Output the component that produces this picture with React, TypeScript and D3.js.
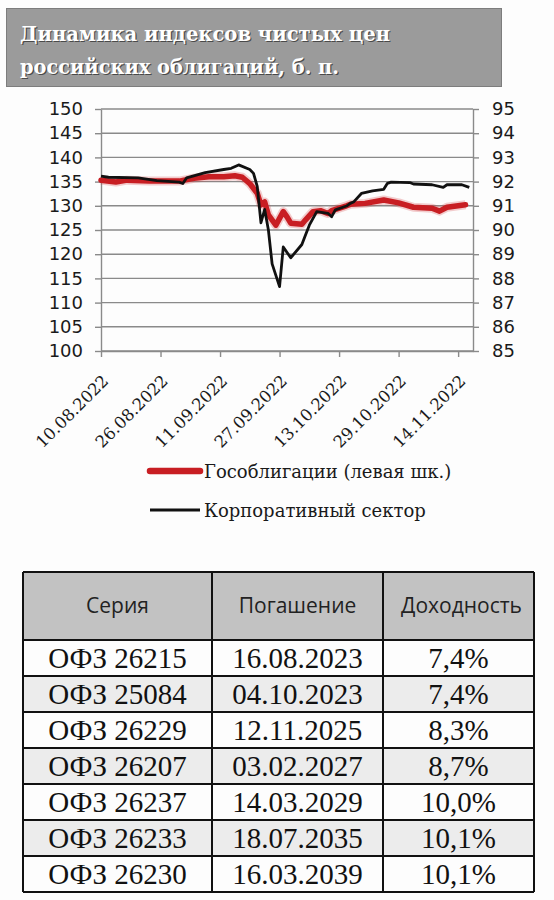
import {
  axisBottom,
  axisLeft,
  axisRight,
  line,
  scaleLinear,
  scaleTime,
  select,
  timeParse
} from "d3";
import { FC, useEffect, useRef } from "react";

const titleLines = ["Динамика индексов чистых цен", "российских облигаций, б. п."];

// Гособлигации, left scale
const govDates = [
  "10.08.2022", "14.08.2022", "17.08.2022", "23.08.2022", "31.08.2022", "04.09.2022",
  "08.09.2022", "12.09.2022", "15.09.2022", "17.09.2022", "19.09.2022", "21.09.2022",
  "22.09.2022", "23.09.2022", "24.09.2022", "26.09.2022", "28.09.2022", "29.09.2022",
  "30.09.2022", "03.10.2022", "04.10.2022", "06.10.2022", "08.10.2022", "10.10.2022",
  "11.10.2022", "15.10.2022", "16.10.2022", "20.10.2022", "25.10.2022", "29.10.2022",
  "02.11.2022", "07.11.2022", "09.11.2022", "11.11.2022", "16.11.2022"
];
const govValues = [
  135.3, 134.9, 135.3, 135.1, 135.1, 135.7,
  136.0, 136.0, 136.2, 135.9, 134.6, 132.6,
  130.2, 130.8, 128.1, 126.0, 128.8, 127.7,
  126.4, 126.2, 127.1, 128.8, 129.0, 128.4,
  129.0, 130.0, 130.3, 130.5, 131.2, 130.6,
  129.7, 129.5, 128.9, 129.7, 130.2
];

// Корпоративный сектор, right scale
const corpDates = [
  "10.08.2022", "12.08.2022", "20.08.2022", "25.08.2022", "31.08.2022", "01.09.2022",
  "02.09.2022", "07.09.2022", "12.09.2022", "14.09.2022", "16.09.2022", "19.09.2022",
  "20.09.2022", "21.09.2022", "22.09.2022", "23.09.2022", "24.09.2022", "25.09.2022",
  "27.09.2022", "28.09.2022", "30.09.2022", "03.10.2022", "04.10.2022", "05.10.2022",
  "07.10.2022", "10.10.2022", "11.10.2022", "12.10.2022", "15.10.2022", "16.10.2022",
  "17.10.2022", "19.10.2022", "22.10.2022", "25.10.2022", "26.10.2022", "27.10.2022",
  "01.11.2022", "02.11.2022", "07.11.2022", "10.11.2022", "11.11.2022", "15.11.2022",
  "17.11.2022"
];
const corpValues = [
  92.23, 92.18, 92.15, 92.04, 91.98, 91.92,
  92.15, 92.37, 92.5, 92.55, 92.69, 92.5,
  92.34, 91.8, 90.3, 90.85, 90.0, 88.6,
  87.66, 89.3, 88.85, 89.4, 89.8, 90.2,
  90.76, 90.69, 90.55, 90.83, 90.99, 91.1,
  91.17, 91.51, 91.62, 91.68, 91.93, 91.98,
  91.96, 91.9, 91.87, 91.76, 91.87, 91.87,
  91.76
];

const leftTicks = [100, 105, 110, 115, 120, 125, 130, 135, 140, 145, 150];
const rightTicks = [85, 86, 87, 88, 89, 90, 91, 92, 93, 94, 95];
const dateTicks = [
  "10.08.2022", "26.08.2022", "11.09.2022", "27.09.2022",
  "13.10.2022", "29.10.2022", "14.11.2022"
];
const legendLabels = ["Гособлигации (левая шк.)", "Корпоративный сектор"];

const tableHeader = ["Серия", "Погашение", "Доходность"];
const bondSeries = [
  "ОФЗ 26215", "ОФЗ 25084", "ОФЗ 26229", "ОФЗ 26207",
  "ОФЗ 26237", "ОФЗ 26233", "ОФЗ 26230"
];
const bondMaturity = [
  "16.08.2023", "04.10.2023", "12.11.2025", "03.02.2027",
  "14.03.2029", "18.07.2035", "16.03.2039"
];
const bondYield = ["7,4%", "7,4%", "8,3%", "8,7%", "10,0%", "10,1%", "10,1%"];

const W = 554;
const H = 900;

const App: FC = () => {
  const svgRef = useRef<SVGSVGElement>(null);

  useEffect(() => {
    const svg = select(svgRef.current);
    svg.selectAll("*").remove();

    const parse = timeParse("%d.%m.%Y");

    const x = scaleTime()
      .domain([parse("10.08.2022")!, parse("18.11.2022")!])
      .range([101, 473]);
    const yLeft = scaleLinear().domain([100, 150]).range([351, 109]);
    const yRight = scaleLinear().domain([85, 95]).range([351, 109]);

    svg.append("rect").attr("width", W).attr("height", H).attr("fill", "#fdfdfd");

    // title box
    svg
      .append("rect")
      .attr("x", 6.5)
      .attr("y", 8.5)
      .attr("width", 495)
      .attr("height", 78)
      .attr("fill", "#9b9b9b")
      .attr("stroke", "#7d7d7d");

    const titleWidths = [370, 319];
    titleLines.forEach((t, i) => {
      [
        { dx: 1.2, fill: "#4a4a4a" },
        { dx: 0, fill: "#ffffff" }
      ].forEach((s) => {
        svg
          .append("text")
          .attr("x", 20 + s.dx)
          .attr("y", 41 + i * 33 + s.dx)
          .attr("font-family", "DejaVu Serif")
          .attr("font-weight", "bold")
          .attr("font-size", 21)
          .attr("textLength", titleWidths[i])
          .attr("lengthAdjust", "spacingAndGlyphs")
          .attr("fill", s.fill)
          .text(t);
      });
    });

    // gridlines
    svg
      .append("g")
      .selectAll("line")
      .data(leftTicks)
      .join("line")
      .attr("x1", 101)
      .attr("x2", 473)
      .attr("y1", (d) => yLeft(d))
      .attr("y2", (d) => yLeft(d))
      .attr("stroke", "#8a8a8a")
      .attr("stroke-width", 1.4);

    const styleAxis = (g: any) => {
      g.select(".domain").attr("stroke", "#8a8a8a").attr("stroke-width", 1.4);
      g.selectAll(".tick line").attr("stroke", "#8a8a8a").attr("stroke-width", 1.4);
      g.selectAll(".tick text")
        .attr("fill", "#1a1a1a")
        .attr("font-family", "DejaVu Sans")
        .attr("font-size", 18);
    };

    svg
      .append("g")
      .attr("transform", "translate(101,0)")
      .call(axisLeft(yLeft).tickValues(leftTicks).tickSize(6).tickSizeOuter(0).tickPadding(12))
      .call(styleAxis);

    svg
      .append("g")
      .attr("transform", "translate(473,0)")
      .call(axisRight(yRight).tickValues(rightTicks).tickSize(6).tickSizeOuter(0).tickPadding(13))
      .call(styleAxis);

    const xAxis = svg
      .append("g")
      .attr("transform", "translate(0,351)")
      .call(
        axisBottom(x)
          .tickValues(dateTicks.map((d) => parse(d)!))
          .tickSize(6)
          .tickSizeOuter(0)
          .tickFormat((_, i) => dateTicks[i])
      )
      .call(styleAxis);

    xAxis
      .selectAll(".tick text")
      .attr("x", 0)
      .attr("y", 0)
      .attr("dy", 0)
      .attr("text-anchor", "end")
      .attr("font-family", "DejaVu Serif")
      .attr("font-size", 16.5)
      .attr("transform", "translate(8,31) rotate(-45)");

    // series
    const govLine = line<number>()
      .x((_, i) => x(parse(govDates[i])!))
      .y((d) => yLeft(d));
    const corpLine = line<number>()
      .x((_, i) => x(parse(corpDates[i])!))
      .y((d) => yRight(d));

    svg
      .append("path")
      .attr("d", govLine(govValues))
      .attr("fill", "none")
      .attr("stroke", "#d23a3e")
      .attr("stroke-opacity", 0.25)
      .attr("stroke-width", 9)
      .attr("stroke-linejoin", "round");
    svg
      .append("path")
      .attr("d", govLine(govValues))
      .attr("fill", "none")
      .attr("stroke", "#c81e23")
      .attr("stroke-width", 5.5)
      .attr("stroke-linejoin", "round")
      .attr("stroke-linecap", "round");
    svg
      .append("path")
      .attr("d", corpLine(corpValues))
      .attr("fill", "none")
      .attr("stroke", "#111111")
      .attr("stroke-width", 2.8)
      .attr("stroke-linejoin", "round");

    // legend
    const legendStyles = [
      { color: "#c81e23", width: 6.5, y: 471 },
      { color: "#111111", width: 3, y: 510 }
    ];
    legendLabels.forEach((label, i) => {
      const s = legendStyles[i];
      svg
        .append("line")
        .attr("x1", 150)
        .attr("x2", 200)
        .attr("y1", s.y)
        .attr("y2", s.y)
        .attr("stroke", s.color)
        .attr("stroke-width", s.width)
        .attr("stroke-linecap", i === 0 ? "round" : "butt");
      svg
        .append("text")
        .attr("x", 204)
        .attr("y", s.y + 6.5)
        .attr("font-family", "DejaVu Serif")
        .attr("font-size", 18)
        .attr("fill", "#1a1a1a")
        .text(label);
    });

    // table
    const colX = [23, 212, 383, 534];
    const headTop = 572;
    const headBottom = 640;
    const rowH = 36;
    const table = svg.append("g");

    table
      .append("rect")
      .attr("x", colX[0])
      .attr("y", headTop)
      .attr("width", colX[3] - colX[0])
      .attr("height", headBottom - headTop)
      .attr("fill", "#c2c2c2");

    bondSeries.forEach((_, i) => {
      if (i % 2 === 1) {
        table
          .append("rect")
          .attr("x", colX[0])
          .attr("y", headBottom + i * rowH)
          .attr("width", colX[3] - colX[0])
          .attr("height", rowH)
          .attr("fill", "#ececec");
      }
    });

    const bottom = headBottom + bondSeries.length * rowH;
    [headTop, headBottom, ...bondSeries.map((_, i) => headBottom + (i + 1) * rowH)].forEach((yy) => {
      table
        .append("line")
        .attr("x1", colX[0])
        .attr("x2", colX[3])
        .attr("y1", yy)
        .attr("y2", yy)
        .attr("stroke", "#111")
        .attr("stroke-width", 2);
    });
    colX.forEach((xx) => {
      table
        .append("line")
        .attr("x1", xx)
        .attr("x2", xx)
        .attr("y1", headTop)
        .attr("y2", bottom)
        .attr("stroke", "#111")
        .attr("stroke-width", 2);
    });

    const centers = colX.slice(0, 3).map((c, i) => (c + colX[i + 1]) / 2);
    tableHeader.forEach((h, i) => {
      table
        .append("text")
        .attr("x", centers[i] + (i === 2 ? 3 : 0))
        .attr("y", 613)
        .attr("text-anchor", "middle")
        .attr("font-family", "Open Sans")
        .attr("font-size", 21)
        .attr("fill", "#222")
        .text(h);
    });

    [bondSeries, bondMaturity, bondYield].forEach((col, c) => {
      col.forEach((v, r) => {
        table
          .append("text")
          .attr("x", centers[c])
          .attr("y", headBottom + r * rowH + 28)
          .attr("text-anchor", "middle")
          .attr("font-family", "Liberation Serif")
          .attr("font-size", 29)
          .attr("fill", "#111")
          .text(v);
      });
    });
  }, []);

  return (
    <svg
      ref={svgRef}
      width={W}
      height={H}
      style={{ position: "absolute", left: 0, top: 0 }}
    ></svg>
  );
};

export default App;
